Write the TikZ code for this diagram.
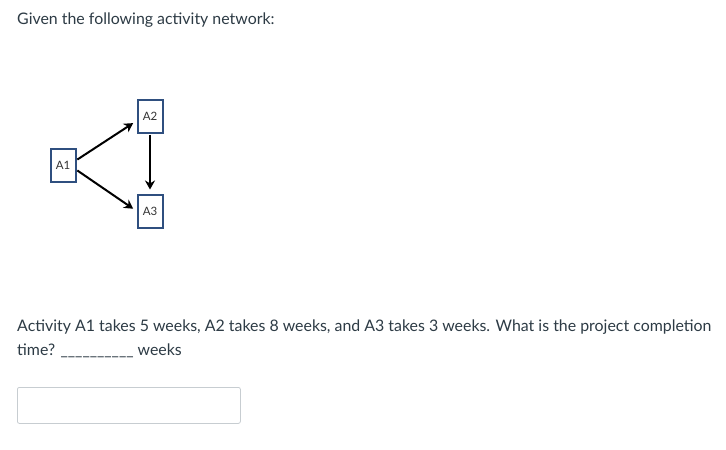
\documentclass[tikz,border=0pt]{standalone}
\usepackage{fontspec}
\setmainfont{Lato}
\usetikzlibrary{arrows.meta,shapes}
\usetikzlibrary{calc}
\definecolor{txtgray}{HTML}{2D3B45}
\definecolor{boxblue}{HTML}{2F4F7F}
\definecolor{fieldgray}{HTML}{C7CDD1}
\tikzstyle{activity}=[rectangle,draw=boxblue,fill=white,line width=2pt,minimum width=25pt,minimum height=33pt,inner sep=0pt,font=\fontsize{11.5}{13}\selectfont,text=black!80]
\tikzstyle{edge} = [draw,line width=2pt,-{Stealth[length=9pt,width=10pt]},shorten <=1pt,shorten >=4pt]
\tikzstyle{question} = [anchor=base west,inner sep=0pt,text=txtgray,font=\fontsize{15.9}{19}\selectfont]

\begin{document}
\begin{tikzpicture}[x=1pt,y=-1pt]
    \useasboundingbox[fill=white] (0,0) rectangle (726,450);
    % Texts of the question
    \node[question] (title) at (17,24) {Given the following activity network:};
    \node[question] (line1) at (17,331) {Activity A1 takes 5 weeks, A2 takes 8 weeks, and A3 takes 3 weeks. What is the project completion};
    \node[question] (line2) at (17,355) {time? \_\_\_\_\_\_\_\_\_\_ weeks};
    % Answer field
    \node[draw=fieldgray,rounded corners=2pt,line width=0.8pt,minimum width=223pt,minimum height=36pt,anchor=north west] (answer) at (17,387) {};
    % The activities
    \foreach \pos/\name/\label in {{(63,165)/A1/A1}, {(150,116)/A2/A2}, {(150,211)/A3/A3}}
        \node[activity] (\name) at \pos {\label};
    % Connect activities
    \foreach \source/\dest in {A1.20/A2.200, A1.-20/A3.180, A2/A3}
        \path[edge] (\source) -- (\dest);
\end{tikzpicture}
\end{document}
